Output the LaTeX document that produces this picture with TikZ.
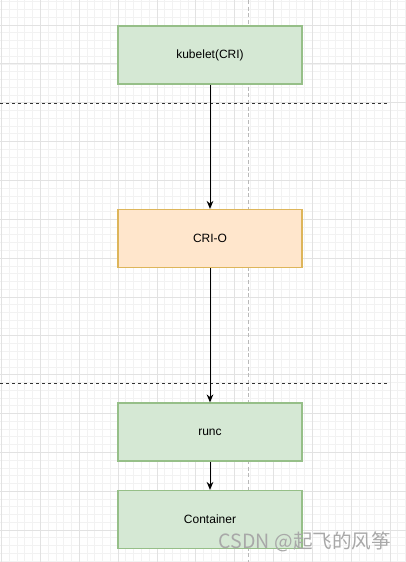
\documentclass[tikz,border=0pt]{standalone}
\usepackage{fontspec}
\setmainfont{Liberation Sans}
\newfontfamily\cjk{Noto Sans CJK SC}
\usetikzlibrary{arrows.meta}
\definecolor{boxgreen}{HTML}{D5E8D4}
\definecolor{linegreen}{HTML}{96BF88}
\definecolor{boxorange}{HTML}{FFE6CC}
\definecolor{lineorange}{HTML}{DDB55A}
\definecolor{gridmajor}{HTML}{E2E2E2}
\definecolor{gridminor}{HTML}{F2F2F2}
\definecolor{markgray}{HTML}{A8A8A8}

\begin{document}
\begin{tikzpicture}[x=0.75pt,y=-0.75pt,
  layer/.style={draw, minimum width=138pt, minimum height=43.5pt, inner sep=0pt,
    line width=0.9pt, font=\fontsize{9}{11}\selectfont},
  green layer/.style={layer, fill=boxgreen, draw=linegreen},
  orange layer/.style={layer, fill=boxorange, draw=lineorange},
  call/.style={-{Stealth[length=6pt,width=5pt]}, line width=0.75pt}]
\useasboundingbox (0,0) rectangle (406,562);
% grid
\foreach \i in {0,...,52} \draw[gridminor, line width=0.5pt] ({1.5+\i*7.77},0) -- ++(0,562);
\foreach \i in {0,...,72} \draw[gridminor, line width=0.5pt] (0,{1.69+\i*7.77}) -- ++(406,0);
\foreach \j in {0,...,10} \draw[gridmajor, line width=0.6pt] ({1.5+\j*38.85},0) -- ++(0,562);
\foreach \j in {0,...,13} \draw[gridmajor, line width=0.6pt] (0,{25+\j*38.85}) -- ++(406,0);
\draw[markgray!80, line width=0.6pt, dash pattern=on 3pt off 2pt] (248.3,0) -- (248.3,562);
% boundaries
\draw[black!80, line width=0.75pt, dash pattern=on 2.5pt off 2pt] (0,103.3) -- (389,103.3);
\draw[black!80, line width=0.75pt, dash pattern=on 2.5pt off 2pt] (0,383.7) -- (389,383.7);
% boxes
\node [green layer] (kubelet) at (210,55) {kubelet(CRI)};
\node [orange layer] (crio) at (210,238.5) {CRI-O};
\node [green layer] (runc) at (210,432) {runc};
\node [green layer] (container) at (210,519.5) {Container};
\draw [call] (kubelet) -- (crio);
\draw [call] (crio) -- (runc);
\draw [call] (runc) -- (container);
\node [anchor=base west, inner sep=0pt, text=markgray, font=\cjk\fontsize{14.7}{17}\selectfont] (mark) at (218.5,548.5) {CSDN @起飞的风筝};
\end{tikzpicture}
\end{document}
